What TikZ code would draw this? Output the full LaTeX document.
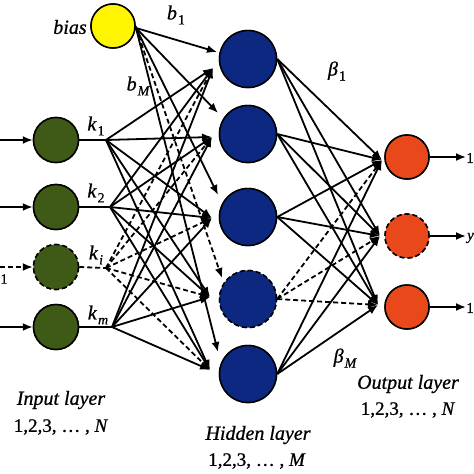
\documentclass[tikz,border=0pt]{standalone}
\usepackage{fontspec}
\setmainfont{Liberation Serif}[FakeBold=0.8]
\usetikzlibrary{arrows.meta}
\definecolor{ingreen}{RGB}{62,90,22}
\definecolor{hidblue}{RGB}{12,40,128}
\definecolor{outorange}{RGB}{232,72,26}
\definecolor{biasyellow}{RGB}{255,245,0}
\newcommand{\sbs}[2]{\textit{#1}\kern0.05em\raisebox{-0.25em}{\fontsize{14}{14}\selectfont #2}}
\begin{document}
\begin{tikzpicture}[x=1pt,y=-1pt,
 neuron/.style={circle,draw=black,line width=1.5pt,inner sep=0pt},
 innode/.style={neuron,fill=ingreen,minimum size=45pt},
 hidnode/.style={neuron,fill=hidblue,minimum size=57pt},
 outnode/.style={neuron,fill=outorange,minimum size=44pt},
 biasnode/.style={neuron,fill=biasyellow,minimum size=44pt},
 dsh/.style={dash pattern=on 5pt off 3pt},
 conn/.style={line width=1.8pt,draw=black},
 arr/.style={conn,-{Latex[length=10pt,width=8pt]}},
 mlbl/.style={font=\fontsize{20}{22}\selectfont},
 tlbl/.style={font=\fontsize{20}{22}\selectfont\itshape},
 nlbl/.style={font=\fontsize{19}{22}\selectfont}
]
\useasboundingbox (0,0) rectangle (474,474);

% nodes
\node[biasnode] (bias) at (113,26) {};
\node[innode] (k1) at (56,140) {};
\node[innode] (k2) at (56,207) {};
\node[innode,dsh] (ki) at (56,267) {};
\node[innode] (km) at (56,327) {};
\node[hidnode] (h1) at (248,59) {};
\node[hidnode] (h2) at (248,134) {};
\node[hidnode] (h3) at (248,217) {};
\node[hidnode,dsh] (h4) at (248,299) {};
\node[hidnode] (h5) at (248,374) {};
\node[outnode] (o1) at (407,157) {};
\node[outnode,dsh] (o2) at (407,236) {};
\node[outnode] (o3) at (407,307) {};

% coordinates
\coordinate (in1) at (0,140);
\coordinate (in2) at (0,207);
\coordinate (ini) at (0,267);
\coordinate (inm) at (0,327);
\coordinate (f1) at (106,140);
\coordinate (f2) at (110,207);
\coordinate (fi) at (106,268);
\coordinate (fm) at (112,327);
\coordinate (c1) at (213,68);
\coordinate (c2) at (212,137);
\coordinate (c3) at (212,218);
\coordinate (c4) at (210,297);
\coordinate (c5) at (210,370);
\coordinate (bo) at (136,28);
\coordinate (bt1) at (217,52);
\coordinate (bt2) at (218,113);
\coordinate (bt3) at (218,195);
\coordinate (bt4) at (222,278);
\coordinate (bt5) at (218,352);
\coordinate (oc1) at (382,160);
\coordinate (oc2) at (380,236);
\coordinate (oc3) at (378,305);
\coordinate (ox1) at (466,157);
\coordinate (ox2) at (466,236);
\coordinate (ox3) at (466,307);

% input arrows
\draw[arr] (in1) -- (k1.west);
\draw[arr] (in2) -- (k2.west);
\draw[arr,dsh] (ini) -- (ki.west);
\draw[arr] (inm) -- (km.west);

% input to fan points
\draw[conn] (k1.east) -- (f1);
\draw[conn] (k2.east) -- (f2);
\draw[conn,dsh] (ki.east) -- (fi);
\draw[conn] (km.east) -- (fm);

% input to hidden
\foreach \c in {c1,c2,c3,c4,c5}{
  \draw[arr] (f1) -- (\c);
  \draw[arr] (f2) -- (\c);
  \draw[arr,dsh] (fi) -- (\c);
  \draw[arr] (fm) -- (\c);
}

% bias to hidden
\draw[conn] (bias.east) -- (bo);
\draw[arr] (bo) -- (bt1);
\draw[arr] (bo) -- (bt2);
\draw[arr] (bo) -- (bt3);
\draw[arr,dsh] (bo) -- (bt4);
\draw[arr] (bo) -- (bt5);

% hidden to output
\foreach \o in {oc1,oc2,oc3}{
  \draw[arr] (h1.east) -- (\o);
  \draw[arr] (h2.east) -- (\o);
  \draw[arr] (h3.east) -- (\o);
  \draw[arr,dsh] (h4.east) -- (\o);
  \draw[arr] (h5.east) -- (\o);
}

% output arrows
\draw[arr] (o1.east) -- (ox1);
\draw[arr] (o2.east) -- (ox2);
\draw[arr] (o3.east) -- (ox3);

% redraw nodes on top
\node[biasnode] at (bias) {};
\node[innode] at (k1) {};
\node[innode] at (k2) {};
\node[innode,dsh] at (ki) {};
\node[innode] at (km) {};
\node[hidnode] at (h1) {};
\node[hidnode] at (h2) {};
\node[hidnode] at (h3) {};
\node[hidnode,dsh] at (h4) {};
\node[hidnode] at (h5) {};
\node[outnode] at (o1) {};
\node[outnode,dsh] at (o2) {};
\node[outnode] at (o3) {};

% labels
\node[tlbl] (lbias) at (70,27) {bias};
\node[mlbl] (lk1) at (96,126) {\sbs{k}{1}};
\node[mlbl] (lk2) at (96,193) {\sbs{k}{2}};
\node[mlbl] (lki) at (96,255) {\sbs{k}{\itshape i}};
\node[mlbl] (lkm) at (98,315) {\sbs{k}{\itshape m}};
\node[mlbl] (lb1) at (176,15) {\sbs{b}{1}};
\node[mlbl] (lbm) at (138,86) {\sbs{b}{\itshape M}};
\node[mlbl] (lbeta1) at (337,71) {\sbs{β}{1}};
\node[mlbl] (lbetam) at (345,358) {\sbs{β}{\itshape M}};
\node[font=\fontsize{14}{14}\selectfont] (lx) at (4,279) {1};
\node[font=\fontsize{15}{15}\selectfont,anchor=east,inner sep=0pt] (ly1) at (474,158) {1};
\node[font=\fontsize{15}{15}\selectfont\itshape,anchor=east,inner sep=0pt] (ly2) at (474,238) {y};
\node[font=\fontsize{15}{15}\selectfont,anchor=east,inner sep=0pt] (ly3) at (474,308) {1};

\node[tlbl] (tin) at (61,400) {Input layer};
\node[nlbl] (nin) at (61,427) {1,2,3, … , \textit{N}};
\node[tlbl] (thid) at (258,435) {Hidden layer};
\node[nlbl] (nhid) at (257,461) {1,2,3, … , \textit{M}};
\node[tlbl] (tout) at (408,384) {Output layer};
\node[nlbl] (nout) at (408,410) {1,2,3, … , \textit{N}};
\end{tikzpicture}
\end{document}
